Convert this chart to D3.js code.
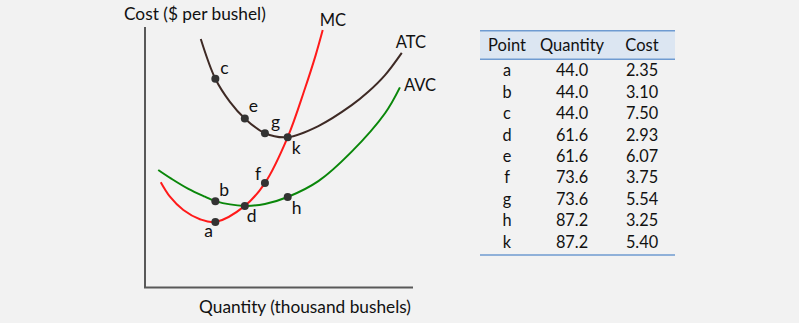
<!DOCTYPE html>
<html>
<head>
<meta charset="utf-8">
<script src="https://cdn.jsdelivr.net/npm/d3@7"></script>
<style>
  html, body { margin: 0; padding: 0; background: #f2f2f2; }
  svg { display: block; font-family: Lato, "Open Sans", sans-serif; }
  .curve { fill: none; stroke-width: 2; }
  .axis-line { stroke: #595959; stroke-width: 2; }
</style>
</head>
<body>
<svg width="799" height="323"></svg>
<script>
// cost-curve samples: [quantity, cost]
var mcCurve = [[11.4, 3.78], [16.9, 3.26], [24.9, 2.78], [34.8, 2.45], [44.0, 2.35], [61.6, 2.93],
  [73.6, 3.75], [87.2, 5.40], [97.5, 7.15], [103.9, 8.35], [108.1, 9.25]];
var atcCurve = [[35.3, 8.93], [44.0, 7.50], [52.7, 6.67], [61.6, 6.07], [73.6, 5.54],
  [87.2, 5.40], [105.5, 5.80], [125.4, 6.55], [135.3, 7.03], [145.3, 7.63], [155.3, 8.43]];
var avcCurve = [[9.9, 4.22], [17.9, 3.90], [27.9, 3.54], [37.8, 3.26], [44.0, 3.10], [61.6, 2.93],
  [73.6, 3.00], [87.2, 3.25], [105.5, 3.82], [125.4, 4.88], [145.3, 6.26], [154.2, 7.19]];

var pointNames = ["a", "b", "c", "d", "e", "f", "g", "h", "k"];
var pointQty = [44.0, 44.0, 44.0, 61.6, 61.6, 73.6, 73.6, 87.2, 87.2];
var pointCost = [2.35, 3.10, 7.50, 2.93, 6.07, 3.75, 5.54, 3.25, 5.40];

var tableHeaders = ["Point", "Quantity", "Cost"];

var svg = d3.select("svg");

var x = d3.scaleLinear().domain([2, 162]).range([145, 413]);
var y = d3.scaleLinear().domain([0, 9.36]).range([287.4, 27]);

// axes (no ticks, just the frame)
svg.append("line").attr("class", "axis-line")
  .attr("x1", x(2)).attr("x2", x(2)).attr("y1", y(0)).attr("y2", y(9.36));
svg.append("line").attr("class", "axis-line")
  .attr("x1", x(2) - 1).attr("x2", x(162)).attr("y1", y(0)).attr("y2", y(0));

svg.append("text")
  .attr("x", 124).attr("y", 20)
  .attr("font-size", 17.3).attr("fill", "#111")
  .text("Cost ($ per bushel)");

svg.append("text")
  .attr("x", x(162) - 2).attr("y", 313)
  .attr("text-anchor", "end")
  .attr("font-size", 17.3).attr("fill", "#111")
  .text("Quantity (thousand bushels)");

var line = d3.line()
  .x(function (d) { return x(d[0]); })
  .y(function (d) { return y(d[1]); })
  .curve(d3.curveCatmullRom.alpha(0.5));

var curves = [
  { name: "ATC", data: atcCurve, color: "#3e2a25" },
  { name: "AVC", data: avcCurve, color: "#0a870a" },
  { name: "MC", data: mcCurve, color: "#ff1a1a" }
];

svg.append("g").selectAll("path")
  .data(curves)
  .enter().append("path")
  .attr("class", "curve")
  .attr("stroke", function (d) { return d.color; })
  .attr("d", function (d) { return line(d.data); });

// curve names next to the top end of each curve
var nameOffset = { MC: [-3, -4], ATC: [-6, -5], AVC: [4, 4] };
svg.append("g").selectAll("text")
  .data(curves)
  .enter().append("text")
  .attr("font-size", 16.5).attr("fill", "#111")
  .attr("x", function (d) { var p = d.data[d.data.length - 1]; return x(p[0]) + nameOffset[d.name][0]; })
  .attr("y", function (d) { var p = d.data[d.data.length - 1]; return y(p[1]) + nameOffset[d.name][1]; })
  .text(function (d) { return d.name; });

var points = pointNames.map(function (n, i) {
  return { name: n, q: pointQty[i], c: pointCost[i] };
});

svg.append("g").selectAll("circle")
  .data(points)
  .enter().append("circle")
  .attr("cx", function (d) { return x(d.q); })
  .attr("cy", function (d) { return y(d.c); })
  .attr("r", 4)
  .attr("fill", "#333");

// label placement relative to each dot
var labelOffset = {
  a: [-11, 15], b: [4, -5], c: [5, -5], d: [2, 16], e: [4, -7],
  f: [-10, -3], g: [6, -5], h: [4, 17], k: [4, 17]
};
svg.append("g").selectAll("text")
  .data(points)
  .enter().append("text")
  .attr("font-size", 17.5).attr("fill", "#111")
  .attr("x", function (d) { return x(d.q) + labelOffset[d.name][0]; })
  .attr("y", function (d) { return y(d.c) + labelOffset[d.name][1]; })
  .text(function (d) { return d.name; });

// table
var colX = [507, 572, 642];
var tLeft = 480, tRight = 675, tTop = 30.7, headH = 28.6, rowH = 21.4;
var tbl = svg.append("g");

tbl.append("rect")
  .attr("x", tLeft).attr("y", tTop)
  .attr("width", tRight - tLeft).attr("height", headH)
  .attr("fill", "#dce6f2");

[tTop, tTop + headH, tTop + headH + rowH * points.length + 3].forEach(function (ly) {
  tbl.append("line")
    .attr("x1", tLeft).attr("x2", tRight).attr("y1", ly).attr("y2", ly)
    .attr("stroke", "#6f9bd1").attr("stroke-width", 1.5);
});

tbl.selectAll("text.head")
  .data(tableHeaders)
  .enter().append("text")
  .attr("class", "head")
  .attr("x", function (d, i) { return colX[i]; })
  .attr("y", tTop + 20)
  .attr("text-anchor", "middle")
  .attr("font-size", 16.5).attr("fill", "#111")
  .text(function (d) { return d; });

var fmtQ = d3.format(".1f"), fmtC = d3.format(".2f");
var rows = tbl.selectAll("g.row")
  .data(points)
  .enter().append("g")
  .attr("class", "row")
  .attr("transform", function (d, i) { return "translate(0," + (tTop + headH + 17 + i * rowH) + ")"; });

rows.selectAll("text")
  .data(function (d) { return [d.name, fmtQ(d.q), fmtC(d.c)]; })
  .enter().append("text")
  .attr("x", function (d, i) { return colX[i]; })
  .attr("text-anchor", "middle")
  .attr("font-size", 16.3).attr("fill", "#111")
  .text(function (d) { return d; });
</script>
</body>
</html>
